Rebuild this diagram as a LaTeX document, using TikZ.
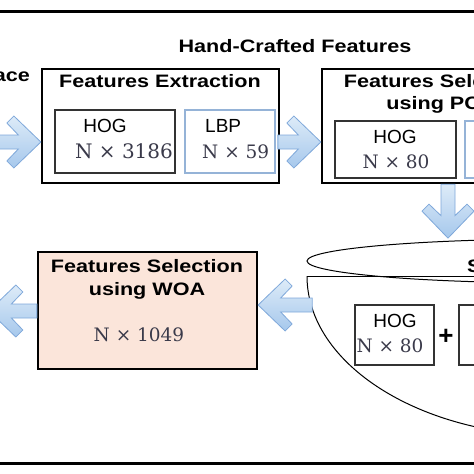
\documentclass[tikz,border=0pt]{standalone}
\usepackage{fontspec}
\newfontfamily\hf{Liberation Sans}
\newfontfamily\nf{DejaVu Serif}
\usetikzlibrary{calc,shapes.geometric}
\definecolor{arrA}{HTML}{DDEBF8}
\definecolor{arrB}{HTML}{A6C8EC}
\definecolor{arrD}{HTML}{7FA8DA}
\definecolor{woa}{HTML}{FBE5DA}
\definecolor{lbpc}{HTML}{95B3D7}
\definecolor{numc}{HTML}{3A3A4A}
\newcommand\wide[1]{\scalebox{1.2}[1]{#1}}
\tikzset{
  pics/barrow/.style={code={
    \path[blk] (0,0) -- (-27,-26) -- (-34,-19) -- (-22.5,-7) -- (-#1,-7)
      -- (-#1,7) -- (-22.5,7) -- (-34,19) -- (-27,26) -- cycle;}}
}
\begin{document}
\begin{tikzpicture}[x=1pt,y=-1pt,
  bigbox/.style={draw=black, line width=2.3pt, inner sep=0pt},
  smallbox/.style={draw=black!80, line width=1.1pt, inner sep=0pt},
  bluebox/.style={draw=lbpc, line width=1.1pt, inner sep=0pt},
  ttl/.style={font=\hf\bfseries\fontsize{18}{21}\selectfont, inner sep=0pt, anchor=base},
  lbl/.style={font=\hf\fontsize{19}{22}\selectfont, inner sep=0pt, anchor=base},
  num/.style={font=\nf\fontsize{18.5}{22}\selectfont, text=numc, inner sep=0pt, anchor=base},
  blk/.style={draw=arrD, line width=0.8pt, top color=arrA, bottom color=arrB}
]
\useasboundingbox (0,0) rectangle (474,474);
\clip (0,0) rectangle (474,474);

% frame lines
\coordinate (tl) at (0,11);
\coordinate (tr) at (474,11);
\coordinate (bl) at (0,463);
\coordinate (br) at (474,463);
\draw[line width=3pt] (tl) -- (tr);
\draw[line width=3pt] (bl) -- (br);

\node[ttl] (hcf) at (295,52) {\wide{Hand-Crafted Features}};
\node[ttl, anchor=base east] (face) at (30,81) {\wide{ace}};

% Features extraction
\node[bigbox, minimum width=237pt, minimum height=114pt] (fe) at (160.5,126) {};
\node[ttl] (fet) at (160,87) {\wide{Features Extraction}};
\node[smallbox, minimum width=120pt, minimum height=63pt] (fehog) at (115,141.5) {};
\node[lbl] (fehogt) at (105,132) {HOG};
\node[num, font=\nf\fontsize{20}{24}\selectfont] (fehogn) at (124,158) {N × 3186};
\node[bluebox, minimum width=90pt, minimum height=63pt] (felbp) at (230,141.5) {};
\node[lbl, anchor=base west] (felbpt) at (205,132) {LBP};
\node[num, anchor=base west] (felbpn) at (202,158) {N × 59};

% PCA selection
\node[bigbox, minimum width=236pt, minimum height=114pt] (pca) at (440,126) {};
\node[ttl] (pcat1) at (440,87) {\wide{Features Selection}};
\node[ttl] (pcat2) at (441,109) {\wide{using PCA}};
\node[smallbox, minimum width=121pt, minimum height=57pt] (pcahog) at (395.5,149.5) {};
\node[lbl] (pcahogt) at (395,143) {HOG};
\node[num] (pcahogn) at (396,168) {N × 80};
\node[bluebox, minimum width=114pt, minimum height=57pt] (pcalbp) at (522,149.5) {};

% fusion bowl
\node[draw, line width=1pt, ellipse, minimum width=506pt, minimum height=44pt, inner sep=0pt] (fus) at (560,261) {};
\coordinate (bowlL) at (307,276);
\coordinate (bowlR) at (480,276);
\draw[line width=1pt] (bowlL) -- (bowlR);
\begin{scope}
  \clip (0,276) rectangle (474,474);
  \draw[line width=1pt] (560,276) ellipse [x radius=253, y radius=160];
\end{scope}
\node[ttl, anchor=base west] (fust) at (467,272) {\wide{S}};
\node[smallbox, minimum width=79pt, minimum height=60pt] (fhog) at (394.5,335) {};
\node[lbl] (fhogt) at (395,327) {HOG};
\node[num] (fhogn) at (390,352) {N × 80};
\node[font=\hf\bfseries\fontsize{26}{28}\selectfont, inner sep=0pt] (plus) at (446,337) {+};
\node[smallbox, minimum width=102pt, minimum height=60pt] (flbp) at (510,335) {};

% WOA selection
\node[bigbox, fill=woa, minimum width=219pt, minimum height=117pt] (woab) at (147.5,310.5) {};
\node[ttl] (woat1) at (147,272) {\wide{Features Selection}};
\node[ttl] (woat2) at (147,295) {\wide{using WOA}};
\node[num] (woan) at (139,341) {N × 1049};

% block arrows
\pic at ($(fe.west)+(0,16)$) {barrow=47};
\pic at ($(pca.west)+(0,16)$) {barrow=43};
\pic[rotate=-90] at ($(pca.south)+(8,54)$) {barrow=54};
\pic[rotate=180] at ($(woab.east)+(0,-5.5)$) {barrow=54};
\pic[rotate=180] at ($(woab.west)+(-48,0.5)$) {barrow=48};
\end{tikzpicture}
\end{document}
